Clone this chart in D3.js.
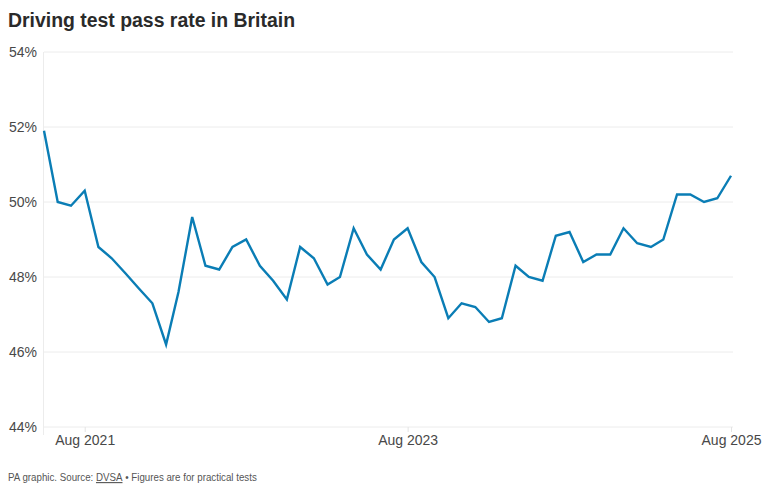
<!DOCTYPE html>
<html><head><meta charset="utf-8">
<script src="https://cdn.jsdelivr.net/npm/d3@7"></script>
<style>
body{margin:0;background:#fff;}
text{font-family:"Liberation Sans",Arial,sans-serif;}
</style></head>
<body><svg id="c" width="768" height="489"></svg>
<script>
const months = ["2021-05","2021-06","2021-07","2021-08","2021-09","2021-10","2021-11","2021-12",
"2022-01","2022-02","2022-03","2022-04","2022-05","2022-06","2022-07","2022-08","2022-09","2022-10","2022-11","2022-12",
"2023-01","2023-02","2023-03","2023-04","2023-05","2023-06","2023-07","2023-08","2023-09","2023-10","2023-11","2023-12",
"2024-01","2024-02","2024-03","2024-04","2024-05","2024-06","2024-07","2024-08","2024-09","2024-10","2024-11","2024-12",
"2025-01","2025-02","2025-03","2025-04","2025-05","2025-06","2025-07","2025-08"];
const passRate = [51.9,50.0,49.9,50.3,48.8,48.5,48.1,47.7,
47.3,46.2,47.6,49.6,48.3,48.2,48.8,49.0,48.3,47.9,47.4,48.8,
48.5,47.8,48.0,49.3,48.6,48.2,49.0,49.3,48.4,48.0,46.9,47.3,
47.2,46.8,46.9,48.3,48.0,47.9,49.1,49.2,48.4,48.6,48.6,49.3,
48.9,48.8,49.0,50.2,50.2,50.0,50.1,50.7];
const yTicks = [44,46,48,50,52,54];
const xTickDates = ["2021-08","2023-08","2025-08"];
const xTickLabels = ["Aug 2021","Aug 2023","Aug 2025"];

const parse = d3.timeParse("%Y-%m");
const data = months.map((m,i)=>({date:parse(m), v:passRate[i]}));

const svg = d3.select("#c");
const m = {left:44, right:37, top:52, bottom:62};
const W = 768, H = 489;
const x = d3.scaleTime().domain(d3.extent(data,d=>d.date)).range([m.left, W-m.right]);
const y = d3.scaleLinear().domain([44,54]).range([H-m.bottom, m.top]);

svg.append("text").attr("x",8).attr("y",27).attr("font-size",20).attr("font-weight","bold")
  .attr("fill","#2a2a2a").attr("textLength",287).attr("lengthAdjust","spacingAndGlyphs")
  .text("Driving test pass rate in Britain");

// grid
svg.append("g").selectAll("line").data(yTicks).join("line")
  .attr("x1",m.left).attr("x2",W-m.right+2).attr("y1",d=>y(d)).attr("y2",d=>y(d))
  .attr("stroke","#ececec").attr("stroke-width",1);
svg.append("line").attr("x1",m.left-0.5).attr("x2",m.left-0.5).attr("y1",y(54)).attr("y2",y(44)+8)
  .attr("stroke","#ececec");

// y labels
svg.append("g").selectAll("text").data(yTicks).join("text")
  .attr("x",37).attr("y",d=>y(d)).attr("dy","0.35em").attr("text-anchor","end")
  .attr("font-size",14).attr("fill","#484848").text(d=>d+"%");

// x axis
const xAxis = d3.axisBottom(x).tickValues(xTickDates.map(parse)).tickSize(5).tickPadding(3)
  .tickFormat((d,i)=>xTickLabels[i]);
const gx = svg.append("g").attr("transform",`translate(0,${y(44)})`).call(xAxis);
gx.select(".domain").remove();
gx.selectAll(".tick line").attr("stroke","#e4e4e4");
gx.selectAll(".tick text").attr("font-size",14).attr("fill","#484848").attr("font-family","Liberation Sans, Arial, sans-serif");

// line
svg.append("path").datum(data)
  .attr("fill","none").attr("stroke","#0a7db5").attr("stroke-width",2.4).attr("stroke-linejoin","miter")
  .attr("d", d3.line().x(d=>x(d.date)).y(d=>y(d.v)));

// footer
const fg = svg.append("g").attr("transform","translate(8,481) scale(0.886,1)");
const f = fg.append("text").attr("x",0).attr("y",0).attr("font-size",11).attr("fill","#555");
f.append("tspan").text("PA graphic. Source: ");
f.append("tspan").attr("text-decoration","underline").text("DVSA");
f.append("tspan").text(" \u2022 Figures are for practical tests");
</script></body></html>
